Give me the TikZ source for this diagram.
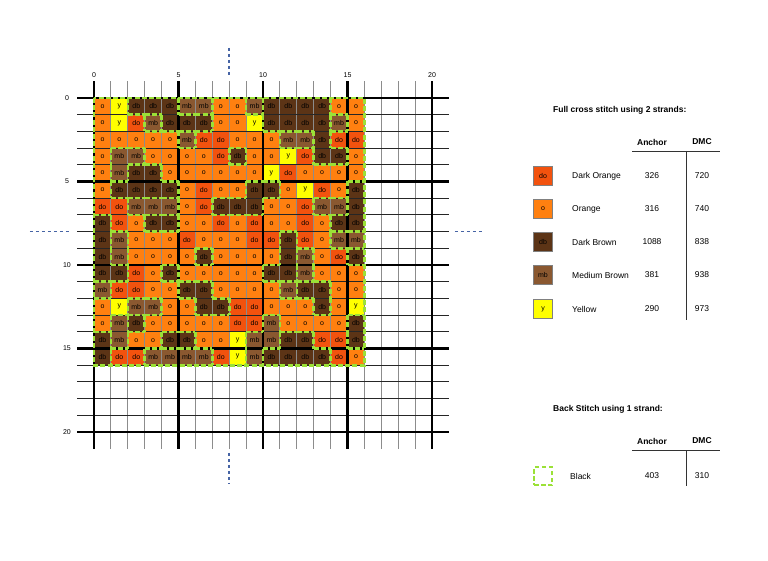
\documentclass[tikz,border=0pt]{standalone}
\usepackage{fontspec}
\setmainfont{Liberation Sans}
\definecolor{cO}{RGB}{255,128,16}
\definecolor{cDO}{RGB}{242,82,14}
\definecolor{cDB}{RGB}{92,52,22}
\definecolor{cMB}{RGB}{138,88,48}
\definecolor{cY}{RGB}{255,255,0}
\definecolor{bsgreen}{RGB}{155,225,55}
\definecolor{centerblue}{RGB}{70,100,165}
\def\colo{cO}\def\coldo{cDO}\def\coldb{cDB}\def\colmb{cMB}\def\coly{cY}
\def\grpo{L}\def\grpdo{L}\def\grpy{L}\def\grpdb{D}\def\grpmb{M}
\tikzset{
  celltext/.style={inner sep=0pt, font=\fontsize{7}{7}\selectfont, text=black},
  thinh/.style={line width=0.9pt, black!85},
  thinv/.style={line width=1pt, black!45},
  thickline/.style={line width=2.4pt, black},
  bstitch/.style={draw=bsgreen, line width=2.6pt, dash pattern=on 5pt off 2.2pt},
  centermark/.style={draw=centerblue, line width=1.6pt, dash pattern=on 3.5pt off 2.5pt},
  axislabel/.style={inner sep=0pt, font=\fontsize{7}{7}\selectfont},
  legtitle/.style={anchor=west, inner sep=0pt, font=\fontsize{8.5}{10}\selectfont\bfseries},
  leghead/.style={inner sep=0pt, font=\fontsize{8.5}{10}\selectfont\bfseries},
  legtext/.style={anchor=west, inner sep=0pt, font=\fontsize{8.5}{10}\selectfont},
  legnum/.style={inner sep=0pt, font=\fontsize{8.5}{10}\selectfont},
  swatch/.style={draw=black!50, line width=0.5pt, minimum width=19pt, minimum height=19pt, inner sep=0pt, font=\fontsize{7}{7}\selectfont},
  legline/.style={line width=0.8pt, black!80}
}
\begin{document}
\begin{tikzpicture}[x=1pt, y=-1pt]
\useasboundingbox (0,0) rectangle (768,561);
\fill[white] (0,0) rectangle (768,561);
\begin{scope}[shift={(94,98)}, x=16.9pt, y=-16.7pt]
  % cells
  \foreach \row [count=\r from 0] in {
    {o,y,db,db,db,mb,mb,o,o,mb,db,db,db,db,o,o},
    {o,y,do,mb,db,db,db,o,o,y,db,db,db,db,mb,o},
    {o,o,o,o,o,mb,do,do,o,o,o,mb,mb,db,do,do},
    {o,mb,mb,o,o,o,o,do,db,o,o,y,do,db,db,o},
    {o,mb,db,db,o,o,o,o,o,o,y,do,o,o,o,o},
    {o,db,db,db,db,o,do,o,o,db,db,o,y,do,o,db},
    {do,do,mb,mb,mb,o,do,db,db,db,o,o,do,mb,mb,db},
    {db,do,o,db,db,o,o,do,o,do,o,o,do,o,db,db},
    {db,mb,o,o,o,do,o,o,o,do,do,db,do,o,mb,mb},
    {db,mb,o,o,o,o,db,o,o,o,o,db,mb,o,do,db},
    {db,db,do,o,db,o,o,o,o,o,db,db,mb,o,o,o},
    {mb,do,do,o,o,db,db,o,o,o,o,mb,db,db,o,o},
    {o,y,mb,mb,o,o,db,db,do,do,o,o,o,db,o,y},
    {o,mb,db,o,o,o,o,o,do,do,mb,o,o,o,o,db},
    {db,mb,o,o,db,db,o,o,y,mb,mb,db,db,do,do,db},
    {db,do,do,mb,mb,mb,mb,do,y,mb,db,db,db,db,do,o}}{
    \foreach \s [count=\c from 0] in \row {
      \edef\cc{\csname col\s\endcsname}%
      \fill[fill=\cc] (\c,\r) rectangle ++(1,1);
      \node[celltext] (cell-\r-\c) at (\c+0.5,\r+0.5) {\s};
      \expandafter\xdef\csname g\r-\c\endcsname{\csname grp\s\endcsname}%
    }
  }
  % grid
  \foreach \k in {1,2,3,4,6,7,8,9,11,12,13,14,16,17,18,19}{
    \draw[thinv] (\k,-1) -- (\k,21);
  }
  \foreach \k in {1,2,3,4,6,7,8,9,11,12,13,14,16,17,18,19}{
    \draw[thinh] (-1,\k) -- (21,\k);
  }
  \foreach \k in {0,5,10,15,20}{
    \draw[thickline] (\k,-1) -- (\k,21);
    \draw[thickline] (-1,\k) -- (21,\k);
  }
  % back stitches
  \foreach \r in {1,...,15}{
    \foreach \c in {0,...,15}{
      \pgfmathtruncatemacro\rp{\r-1}%
      \edef\ga{\csname g\rp-\c\endcsname}%
      \edef\gb{\csname g\r-\c\endcsname}%
      \ifx\ga\gb\else\draw[bstitch] (\c,\r) -- ++(1,0);\fi
    }
  }
  \foreach \r in {0,...,15}{
    \foreach \c in {1,...,15}{
      \pgfmathtruncatemacro\cp{\c-1}%
      \edef\ga{\csname g\r-\cp\endcsname}%
      \edef\gb{\csname g\r-\c\endcsname}%
      \ifx\ga\gb\else\draw[bstitch] (\c,\r) -- ++(0,1);\fi
    }
  }
  \draw[bstitch] (0,0) rectangle (16,16);
  % axis labels
  \foreach \k in {0,5,10,15,20}{
    \node[axislabel] (collab-\k) at (\k,-1.35) {\k};
    \node[axislabel] (rowlab-\k) at (-1.6,\k) {\k};
  }
  % centre marks
  \coordinate (ct1) at (8,-3.0);  \coordinate (ct2) at (8,-1.35);
  \coordinate (cb1) at (8,21.25); \coordinate (cb2) at (8,23.05);
  \coordinate (cl1) at (-3.8,8);  \coordinate (cl2) at (-1.45,8);
  \coordinate (cr1) at (21.35,8); \coordinate (cr2) at (23.1,8);
  \draw[centermark] (ct1) -- (ct2);
  \draw[centermark] (cb1) -- (cb2);
  \draw[centermark] (cl1) -- (cl2);
  \draw[centermark] (cr1) -- (cr2);
\end{scope}
% legend: full cross stitch
\node[legtitle] (t1) at (553,110) {Full cross stitch using 2 strands:};
\node[leghead] (ha1) at (652,142) {Anchor};
\node[leghead] (hd1) at (702,142) {DMC};
\coordinate (hl1a) at (632,151); \coordinate (hl1b) at (720,151);
\coordinate (vl1a) at (686,151); \coordinate (vl1b) at (686,320);
\draw[legline] (hl1a) -- (hl1b);
\draw[legline] (vl1a) -- (vl1b);
\foreach \key/\nm/\an/\dm/\yy in {do/Dark Orange/326/720/176, o/Orange/316/740/209, db/Dark Brown/1088/838/242, mb/Medium Brown/381/938/275, y/Yellow/290/973/309}{
  \edef\cc{\csname col\key\endcsname}%
  \node[swatch, fill=\cc] (sw-\key) at (543,\yy) {\key};
  \node[legtext] (nm-\key) at (572,\yy) {\nm};
  \node[legnum] (an-\key) at (652,\yy) {\an};
  \node[legnum] (dm-\key) at (702,\yy) {\dm};
}
% legend: back stitch
\node[legtitle] (t2) at (553,409) {Back Stitch using 1 strand:};
\node[leghead] (ha2) at (652,441) {Anchor};
\node[leghead] (hd2) at (702,441) {DMC};
\coordinate (hl2a) at (632,450); \coordinate (hl2b) at (720,450);
\coordinate (vl2a) at (686,450); \coordinate (vl2b) at (686,486);
\draw[legline] (hl2a) -- (hl2b);
\draw[legline] (vl2a) -- (vl2b);
\node[minimum width=18pt, minimum height=18pt, inner sep=0pt, draw=bsgreen, line width=2.3pt, dash pattern=on 4.5pt off 2.5pt] (sw-bs) at (543,476) {};
\node[legtext] (nm-bs) at (570,476) {Black};
\node[legnum] (an-bs) at (652,476) {403};
\node[legnum] (dm-bs) at (702,476) {310};
\end{tikzpicture}
\end{document}
